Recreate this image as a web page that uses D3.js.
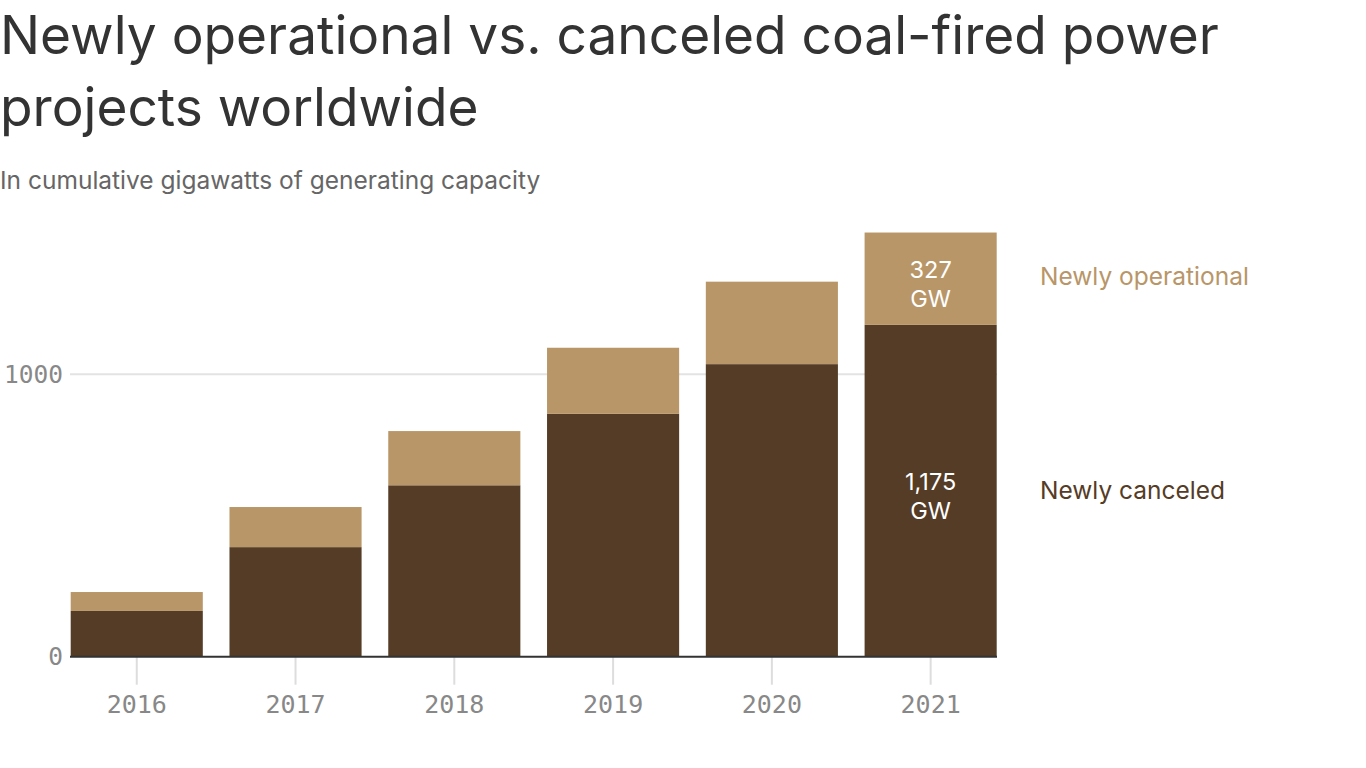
<!DOCTYPE html>
<html>
<head>
<meta charset="utf-8">
<script src="https://cdn.jsdelivr.net/npm/d3@7"></script>
<style>
  body { margin: 0; background: #fff; }
  svg { display: block; font-family: Inter, "Noto Sans", sans-serif; }
</style>
</head>
<body>
<div class="display"></div>
<script>
const years = ['2016', '2017', '2018', '2019', '2020', '2021'];
const canceled = [162, 388, 607, 860, 1036, 1175];
const operational = [67, 142, 192, 234, 292, 327];
const yTicks = [0, 1000];

const width = 1366;
const height = 768;
const colorOp = '#b89668';
const colorCan = '#553c26';

const svg = d3.select('.display')
    .append('svg')
    .attr('width', width)
    .attr('height', height);

// title + subtitle
svg.append('text')
    .attr('x', 0).attr('y', 54)
    .attr('font-size', 53.2).attr('fill', '#333')
    .text('Newly operational vs. canceled coal-fired power');
svg.append('text')
    .attr('x', 0).attr('y', 126)
    .attr('font-size', 53.2).attr('fill', '#333')
    .text('projects worldwide');
svg.append('text')
    .attr('x', 0).attr('y', 189)
    .attr('font-size', 24.5).attr('fill', '#666')
    .text('In cumulative gigawatts of generating capacity');

const dataset = years.map((y, i) => ({ year: y, canceled: canceled[i], operational: operational[i] }));

const xScale = d3.scaleBand()
    .domain(years)
    .range([70.7, 996.7])
    .paddingInner(0.168)
    .paddingOuter(0);

const yScale = d3.scaleLinear()
    .domain([0, 1000])
    .range([656.7, 374.3]);

// gridline at 1000
svg.append('g')
    .selectAll('line')
    .data(yTicks.filter(d => d > 0))
    .enter()
    .append('line')
    .attr('x1', 70).attr('x2', 997)
    .attr('y1', d => yScale(d)).attr('y2', d => yScale(d))
    .attr('stroke', '#e3e3e3').attr('stroke-width', 2);

// y labels
svg.append('g')
    .selectAll('text')
    .data(yTicks)
    .enter()
    .append('text')
    .attr('x', 63)
    .attr('y', d => yScale(d))
    .attr('dy', '0.35em')
    .attr('text-anchor', 'end')
    .attr('font-family', '"DejaVu Sans Mono", monospace')
    .attr('font-size', 24.5)
    .attr('fill', '#888')
    .text(d => d);

// x axis
const xAxis = d3.axisBottom(xScale).tickSize(28).tickPadding(11);
const gx = svg.append('g')
    .attr('transform', `translate(0, ${yScale(0)})`)
    .call(xAxis);
gx.select('.domain').remove();
gx.selectAll('.tick line').attr('stroke', '#ddd').attr('stroke-width', 2);
gx.selectAll('.tick text')
    .attr('font-family', '"DejaVu Sans Mono", monospace')
    .attr('font-size', 25)
    .attr('fill', '#888');

// stacked bars
const stack = d3.stack().keys(['canceled', 'operational'])(dataset);
const colors = { canceled: colorCan, operational: colorOp };

svg.append('g')
    .selectAll('g')
    .data(stack)
    .enter()
    .append('g')
    .attr('fill', d => colors[d.key])
    .selectAll('rect')
    .data(d => d)
    .enter()
    .append('rect')
    .attr('x', d => xScale(d.data.year))
    .attr('y', d => yScale(d[1]))
    .attr('width', xScale.bandwidth())
    .attr('height', d => yScale(d[0]) - yScale(d[1]));

// baseline
svg.append('line')
    .attr('x1', 70).attr('x2', 997)
    .attr('y1', yScale(0)).attr('y2', yScale(0))
    .attr('stroke', '#333').attr('stroke-width', 2);

// labels inside last bar
const last = dataset[dataset.length - 1];
const cx = xScale(last.year) + xScale.bandwidth() / 2;
const opMid = yScale(last.canceled + last.operational / 2);
const canMid = yScale(last.canceled / 2);
const inLabels = [
    { lines: [String(last.operational), 'GW'], mid: opMid },
    { lines: [d3.format(',')(last.canceled), 'GW'], mid: canMid }
];
inLabels.forEach(l => {
    const t = svg.append('text')
        .attr('text-anchor', 'middle')
        .attr('font-size', 23.5)
        .attr('fill', '#fff');
    l.lines.forEach((s, i) => {
        t.append('tspan')
            .attr('x', cx)
            .attr('y', l.mid + 5 + (i - 0.5) * 29 + 8.5)
            .text(s);
    });
});

// legend labels
svg.append('text')
    .attr('x', 1040).attr('y', opMid - 2 + 8.5)
    .attr('font-size', 24.5).attr('fill', colorOp)
    .text('Newly operational');
svg.append('text')
    .attr('x', 1040).attr('y', canMid + 8.5)
    .attr('font-size', 24.5).attr('fill', colorCan)
    .text('Newly canceled');
</script>
</body>
</html>
